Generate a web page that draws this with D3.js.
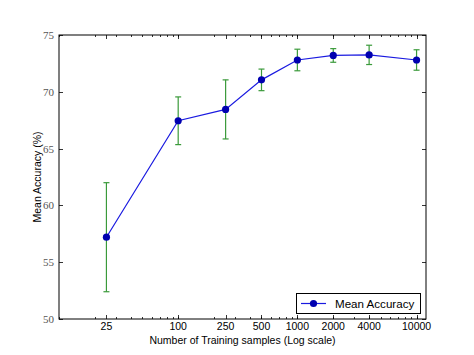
<!DOCTYPE html>
<html><head><meta charset="utf-8">
<script src="https://cdn.jsdelivr.net/npm/d3@7"></script>
<style>body{margin:0;background:#fff;}svg{display:block;}</style>
</head><body>
<svg id="c" width="474" height="355"></svg>
<script>
const samples = [25, 100, 250, 500, 1000, 2000, 4000, 10000];
const meanAcc = [57.2, 67.45, 68.45, 71.05, 72.8, 73.2, 73.25, 72.8];
const errAcc = [4.8, 2.1, 2.6, 0.95, 0.95, 0.6, 0.85, 0.9];
const xTickLabels = ["25", "100", "250", "500", "1000", "2000", "4000", "10000"];
const yTicks = [50, 55, 60, 65, 70, 75];

const svg = d3.select("#c");
const L = 59, R = 426, T = 35, B = 319;
const x = d3.scaleLog().domain([10, 12000]).range([L, R]);
const y = d3.scaleLinear().domain([50, 75]).range([B, T]);

// minor ticks
const minor = [];
for (let d = 10; d <= 10000; d *= 10) for (let k = 1; k < 10; k++) { const v = d * k; if (v >= 10 && v <= 12000) minor.push(v); }
const g = svg.append("g");
minor.forEach(v => {
  const px = Math.round(x(v)) + 0.5;
  g.append("line").attr("x1", px).attr("x2", px).attr("y1", B).attr("y2", B - 2).attr("stroke", "#000").attr("stroke-width", 0.8);
  g.append("line").attr("x1", px).attr("x2", px).attr("y1", T).attr("y2", T + 2).attr("stroke", "#000").attr("stroke-width", 0.8);
});
samples.forEach((v, i) => {
  const px = Math.round(x(v)) + 0.5;
  g.append("line").attr("x1", px).attr("x2", px).attr("y1", B).attr("y2", B - 4).attr("stroke", "#000").attr("stroke-width", 0.8);
  g.append("line").attr("x1", px).attr("x2", px).attr("y1", T).attr("y2", T + 4).attr("stroke", "#000").attr("stroke-width", 0.8);
  g.append("text").attr("x", x(v)).attr("y", B + 11).attr("text-anchor", "middle")
    .attr("font-family", "Liberation Sans, Arial, sans-serif").attr("font-size", 10.5).attr("fill", "#000").text(xTickLabels[i]);
});
yTicks.forEach(v => {
  const py = Math.round(y(v)) + 0.5;
  g.append("line").attr("x1", L).attr("x2", L + 4).attr("y1", py).attr("y2", py).attr("stroke", "#000").attr("stroke-width", 0.8);
  g.append("line").attr("x1", R).attr("x2", R - 4).attr("y1", py).attr("y2", py).attr("stroke", "#000").attr("stroke-width", 0.8);
  g.append("text").attr("x", L - 5).attr("y", y(v) + 4).attr("text-anchor", "end")
    .attr("font-family", "Liberation Serif, Times New Roman, serif").attr("font-size", 11).attr("fill", "#555").text(v);
});

// error bars
const eb = svg.append("g").attr("stroke", "#3a9a3a").attr("stroke-width", 1.2);
samples.forEach((v, i) => {
  const px = x(v);
  eb.append("line").attr("x1", px).attr("x2", px).attr("y1", y(meanAcc[i] - errAcc[i])).attr("y2", y(meanAcc[i] + errAcc[i]));
  [meanAcc[i] - errAcc[i], meanAcc[i] + errAcc[i]].forEach(e => {
    eb.append("line").attr("x1", px - 3).attr("x2", px + 3).attr("y1", y(e)).attr("y2", y(e));
  });
});

// line
const line = d3.line().x((d, i) => x(samples[i])).y(d => y(d));
svg.append("path").datum(meanAcc).attr("d", line).attr("fill", "none").attr("stroke", "#1a1ae0").attr("stroke-width", 1.2);
svg.selectAll("circle.pt").data(meanAcc).enter().append("circle")
  .attr("cx", (d, i) => x(samples[i])).attr("cy", d => y(d)).attr("r", 3.6).attr("fill", "#0000b0");

// frame
svg.append("rect").attr("x", L).attr("y", T).attr("width", R - L).attr("height", B - T)
  .attr("fill", "none").attr("stroke", "#000").attr("stroke-width", 1);

// axis labels
svg.append("text").attr("x", (L + R) / 2).attr("y", 344).attr("text-anchor", "middle")
  .attr("font-family", "Liberation Sans, Arial, sans-serif").attr("font-size", 10.5).text("Number of Training samples (Log scale)");
svg.append("text").attr("transform", `translate(41,${(T + B) / 2}) rotate(-90)`).attr("text-anchor", "middle")
  .attr("font-family", "Liberation Sans, Arial, sans-serif").attr("font-size", 10.5).text("Mean Accuracy (%)");

// legend
const lg = svg.append("g");
lg.append("rect").attr("x", 296.5).attr("y", 293.5).attr("width", 124).attr("height", 20)
  .attr("fill", "#fff").attr("stroke", "#000").attr("stroke-width", 1);
lg.append("line").attr("x1", 301).attr("x2", 326).attr("y1", 303.5).attr("y2", 303.5).attr("stroke", "#1a1ae0").attr("stroke-width", 1.2);
lg.append("circle").attr("cx", 313.5).attr("cy", 303.5).attr("r", 3.6).attr("fill", "#0000b0");
lg.append("text").attr("x", 335).attr("y", 308).attr("font-family", "Liberation Sans, Arial, sans-serif")
  .attr("font-size", 11.6).text("Mean Accuracy");
</script>
</body></html>
